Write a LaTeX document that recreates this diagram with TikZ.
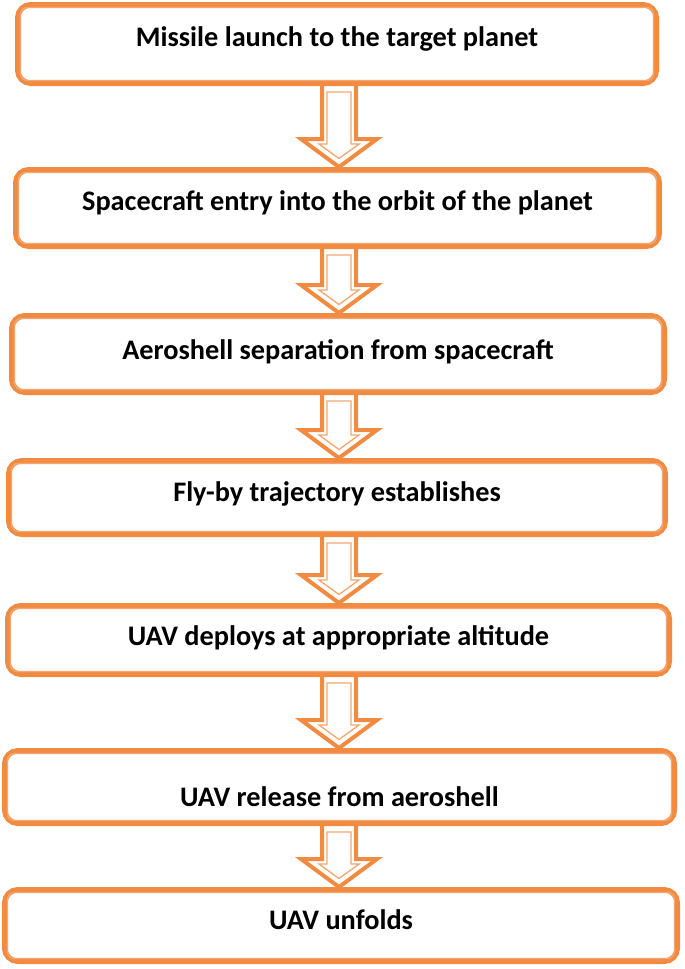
\documentclass[tikz,border=0pt]{standalone}
\usepackage{fontspec}
\setmainfont{Carlito}
\usetikzlibrary{calc}
\definecolor{org}{HTML}{F28B42}
\definecolor{orglight}{HTML}{F4A66E}
\tikzset{
  boxframe/.style={draw=org, line width=5.5pt, rounded corners=13pt, fill=white, inner sep=0pt},
  boxinner/.style={draw=orglight, line width=1.4pt, rounded corners=7pt},
  boxtext/.style={anchor=base, inner sep=0pt, font=\fontsize{28.3}{34}\selectfont\bfseries, text=black},
  arrowouter/.style={draw=org, line width=4pt, line join=miter},
  arrowinner/.style={draw=orglight, line width=1.3pt, line join=miter},
}
% #1 name, #2 L, #3 T, #4 R, #5 B, #6 baseline, #7 text
\newcommand{\flowbox}[7]{%
  \node[boxframe, minimum width={#4-#2-5.5pt}, minimum height={#5-#3-5.5pt}] (#1) at ({(#2+#4)/2},{(#3+#5)/2}) {};
  \draw[boxinner] ($(#1.north west)+(5.5,5.5)$) rectangle ($(#1.south east)+(-5.5,-5.5)$);
  \node[boxtext] (#1t) at ({(#2+#4)/2},#6) {#7};
}
% #1 from box, #2 to box
\newcommand{\flowarrow}[2]{%
  \path (#1.south -| ax) coordinate (#1s) (#2.north -| ax) coordinate (#2e);
  \draw[arrowouter] ($(#1s)+(-17,0)$) -- ($(#2e)+(-17,-28)$) -- ($(#2e)+(-38,-28)$) -- (#2e)
     -- ($(#2e)+(38,-28)$) -- ($(#2e)+(17,-28)$) -- ($(#1s)+(17,0)$);
  \draw[arrowinner] ($(#1s)+(-12,6)$) -- ($(#2e)+(-12,-23)$) -- ($(#2e)+(-20,-23)$) -- ($(#2e)+(0,-8.5)$)
     -- ($(#2e)+(20,-23)$) -- ($(#2e)+(12,-23)$) -- ($(#1s)+(12,6)$) -- cycle;
}
\begin{document}
\begin{tikzpicture}[x=1pt,y=-1pt]
\useasboundingbox (0,0) rectangle (685,969);
\fill[white] (0,0) rectangle (685,969);
\coordinate (ax) at (339,0);
\flowbox{b1}{15}{2}{659}{86}{46}{Missile launch to the target planet}
\flowbox{b2}{13}{167}{662}{249}{210}{Spacecraft entry into the orbit of the planet}
\flowbox{b3}{9}{313}{667}{395}{359}{Aeroshell separation from spacecraft}
\flowbox{b4}{6}{458}{668}{537}{501}{Fly-by trajectory establishes}
\flowbox{b5}{5}{603}{672}{677}{645}{UAV deploys at appropriate altitude}
\flowbox{b6}{2}{748}{677}{826}{806}{UAV release from aeroshell}
\flowbox{b7}{2}{887}{680}{964}{929}{UAV unfolds}
\flowarrow{b1}{b2}
\flowarrow{b2}{b3}
\flowarrow{b3}{b4}
\flowarrow{b4}{b5}
\flowarrow{b5}{b6}
\flowarrow{b6}{b7}
\end{tikzpicture}
\end{document}
